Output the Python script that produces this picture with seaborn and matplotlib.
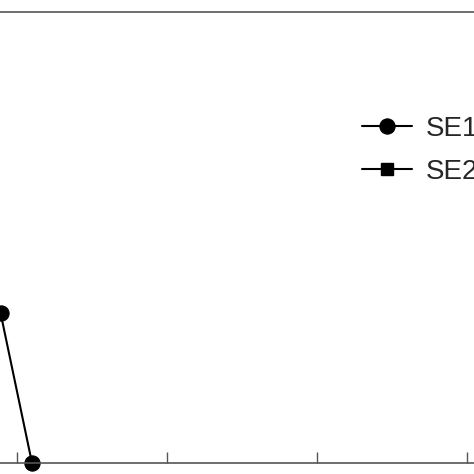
import matplotlib
matplotlib.use("Agg")
import matplotlib.pyplot as plt
import seaborn as sns
import pandas as pd

sns.set_style("white")
plt.rcParams['font.family'] = ['Liberation Sans', 'DejaVu Sans']

se1_x = [-0.11, 0.1]
se1_y = [1.0, 0.0]
se2_x = []
se2_y = []
xticks = [0, 1, 2, 3]

fig = plt.figure(figsize=(4.74, 4.74), dpi=100)
ax = fig.add_axes([-58/474, 11/474, 600/474, 451/474])
df1 = pd.DataFrame({"x": se1_x, "y": se1_y})
sns.lineplot(data=df1, x="x", y="y", ax=ax, color="black", marker="o", markersize=11,
             linewidth=1.5, label="SE1", clip_on=False, markeredgecolor="black")
ax.plot(se2_x, se2_y, color="black", marker="s", markersize=9, linewidth=1.5, label="SE2")
ax.set_xlim(-0.5, 3.5)
ax.set_ylim(0, 3)
ax.set_xticks(xticks)
ax.set_xticklabels([])
ax.set_yticks([])
ax.set_xlabel("")
ax.set_ylabel("")
ax.tick_params(axis="x", direction="in", length=8, width=1, color="#555555", bottom=True)
for s in ["top", "bottom"]:
    ax.spines[s].set_color("#555555")
    ax.spines[s].set_linewidth(1.2)
ax.legend(loc="upper left", bbox_to_anchor=(362/474, 1 - 116/474), bbox_transform=fig.transFigure,
          frameon=False, fontsize=20, handlelength=1.8, handletextpad=0.5, labelspacing=0.6,
          borderpad=0, borderaxespad=0)
fig.savefig("out.png", dpi=100)
